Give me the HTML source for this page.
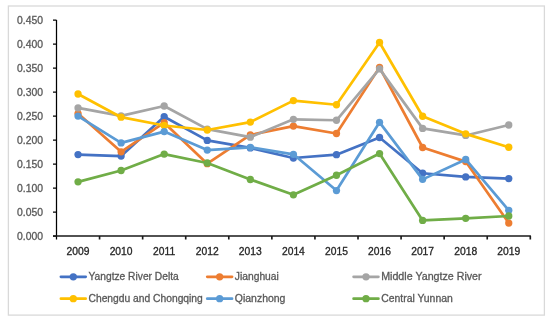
<!DOCTYPE html><html><head><meta charset="utf-8"><title>Chart</title><style>html,body{margin:0;padding:0;background:#fff;width:550px;height:320px;overflow:hidden}svg{display:block}text{font-family:"Liberation Sans", Arial, sans-serif;stroke-width:0.3px;paint-order:fill}</style></head><body>
<svg width="550" height="320" viewBox="0 0 550 320">
<rect x="0" y="0" width="550" height="320" fill="#fff"/>
<rect x="8.4" y="6.0" width="536.0" height="309.1" fill="none" stroke="#d9d9d9" stroke-width="1.3"/>
<text x="43" y="239.70" font-size="10.3" fill="#595959" stroke="#595959" text-anchor="end" textLength="26" lengthAdjust="spacingAndGlyphs">0.000</text>
<text x="43" y="215.70" font-size="10.3" fill="#595959" stroke="#595959" text-anchor="end" textLength="26" lengthAdjust="spacingAndGlyphs">0.050</text>
<text x="43" y="191.70" font-size="10.3" fill="#595959" stroke="#595959" text-anchor="end" textLength="26" lengthAdjust="spacingAndGlyphs">0.100</text>
<text x="43" y="167.70" font-size="10.3" fill="#595959" stroke="#595959" text-anchor="end" textLength="26" lengthAdjust="spacingAndGlyphs">0.150</text>
<text x="43" y="143.70" font-size="10.3" fill="#595959" stroke="#595959" text-anchor="end" textLength="26" lengthAdjust="spacingAndGlyphs">0.200</text>
<text x="43" y="119.70" font-size="10.3" fill="#595959" stroke="#595959" text-anchor="end" textLength="26" lengthAdjust="spacingAndGlyphs">0.250</text>
<text x="43" y="95.70" font-size="10.3" fill="#595959" stroke="#595959" text-anchor="end" textLength="26" lengthAdjust="spacingAndGlyphs">0.300</text>
<text x="43" y="71.70" font-size="10.3" fill="#595959" stroke="#595959" text-anchor="end" textLength="26" lengthAdjust="spacingAndGlyphs">0.350</text>
<text x="43" y="47.70" font-size="10.3" fill="#595959" stroke="#595959" text-anchor="end" textLength="26" lengthAdjust="spacingAndGlyphs">0.400</text>
<text x="43" y="23.70" font-size="10.3" fill="#595959" stroke="#595959" text-anchor="end" textLength="26" lengthAdjust="spacingAndGlyphs">0.450</text>
<text x="78.04" y="255.3" font-size="10.3" fill="#262626" stroke="#262626" text-anchor="middle">2009</text>
<text x="121.11" y="255.3" font-size="10.3" fill="#262626" stroke="#262626" text-anchor="middle">2010</text>
<text x="164.18" y="255.3" font-size="10.3" fill="#262626" stroke="#262626" text-anchor="middle">2011</text>
<text x="207.25" y="255.3" font-size="10.3" fill="#262626" stroke="#262626" text-anchor="middle">2012</text>
<text x="250.33" y="255.3" font-size="10.3" fill="#262626" stroke="#262626" text-anchor="middle">2013</text>
<text x="293.40" y="255.3" font-size="10.3" fill="#262626" stroke="#262626" text-anchor="middle">2014</text>
<text x="336.47" y="255.3" font-size="10.3" fill="#262626" stroke="#262626" text-anchor="middle">2015</text>
<text x="379.55" y="255.3" font-size="10.3" fill="#262626" stroke="#262626" text-anchor="middle">2016</text>
<text x="422.62" y="255.3" font-size="10.3" fill="#262626" stroke="#262626" text-anchor="middle">2017</text>
<text x="465.69" y="255.3" font-size="10.3" fill="#262626" stroke="#262626" text-anchor="middle">2018</text>
<text x="508.76" y="255.3" font-size="10.3" fill="#262626" stroke="#262626" text-anchor="middle">2019</text>
<path d="M56.50 20.00V239.50M53.00 236.00H56.50M53.00 212.00H56.50M53.00 188.00H56.50M53.00 164.00H56.50M53.00 140.00H56.50M53.00 116.00H56.50M53.00 92.00H56.50M53.00 68.00H56.50M53.00 44.00H56.50M53.00 20.00H56.50" stroke="#000" stroke-width="1.25" fill="none"/>
<path d="M53.00 236.00H530.90M99.57 236.00V239.50M142.65 236.00V239.50M185.72 236.00V239.50M228.79 236.00V239.50M271.86 236.00V239.50M314.94 236.00V239.50M358.01 236.00V239.50M401.08 236.00V239.50M444.15 236.00V239.50M487.23 236.00V239.50M530.30 236.00V239.50" stroke="#1a1a1a" stroke-width="1.65" fill="none"/>
<polyline points="78.04,154.54 121.11,156.08 164.18,116.77 207.25,140.38 250.33,147.92 293.40,158.00 336.47,154.64 379.55,137.50 422.62,173.26 465.69,176.91 508.76,178.59" fill="none" stroke="#4472C4" stroke-width="2.70" stroke-linejoin="round" stroke-linecap="round"/>
<circle cx="78.04" cy="154.54" r="3.65" fill="#4472C4"/>
<circle cx="121.11" cy="156.08" r="3.65" fill="#4472C4"/>
<circle cx="164.18" cy="116.77" r="3.65" fill="#4472C4"/>
<circle cx="207.25" cy="140.38" r="3.65" fill="#4472C4"/>
<circle cx="250.33" cy="147.92" r="3.65" fill="#4472C4"/>
<circle cx="293.40" cy="158.00" r="3.65" fill="#4472C4"/>
<circle cx="336.47" cy="154.64" r="3.65" fill="#4472C4"/>
<circle cx="379.55" cy="137.50" r="3.65" fill="#4472C4"/>
<circle cx="422.62" cy="173.26" r="3.65" fill="#4472C4"/>
<circle cx="465.69" cy="176.91" r="3.65" fill="#4472C4"/>
<circle cx="508.76" cy="178.59" r="3.65" fill="#4472C4"/>
<polyline points="78.04,113.60 121.11,151.81 164.18,122.67 207.25,163.71 250.33,134.96 293.40,126.08 336.47,133.52 379.55,67.38 422.62,147.49 465.69,161.60 508.76,223.04" fill="none" stroke="#ED7D31" stroke-width="2.70" stroke-linejoin="round" stroke-linecap="round"/>
<circle cx="78.04" cy="113.60" r="3.65" fill="#ED7D31"/>
<circle cx="121.11" cy="151.81" r="3.65" fill="#ED7D31"/>
<circle cx="164.18" cy="122.67" r="3.65" fill="#ED7D31"/>
<circle cx="207.25" cy="163.71" r="3.65" fill="#ED7D31"/>
<circle cx="250.33" cy="134.96" r="3.65" fill="#ED7D31"/>
<circle cx="293.40" cy="126.08" r="3.65" fill="#ED7D31"/>
<circle cx="336.47" cy="133.52" r="3.65" fill="#ED7D31"/>
<circle cx="379.55" cy="67.38" r="3.65" fill="#ED7D31"/>
<circle cx="422.62" cy="147.49" r="3.65" fill="#ED7D31"/>
<circle cx="465.69" cy="161.60" r="3.65" fill="#ED7D31"/>
<circle cx="508.76" cy="223.04" r="3.65" fill="#ED7D31"/>
<polyline points="78.04,107.89 121.11,115.81 164.18,106.02 207.25,129.10 250.33,137.17 293.40,119.36 336.47,120.27 379.55,68.91 422.62,128.38 465.69,135.44 508.76,124.98" fill="none" stroke="#A5A5A5" stroke-width="2.70" stroke-linejoin="round" stroke-linecap="round"/>
<circle cx="78.04" cy="107.89" r="3.65" fill="#A5A5A5"/>
<circle cx="121.11" cy="115.81" r="3.65" fill="#A5A5A5"/>
<circle cx="164.18" cy="106.02" r="3.65" fill="#A5A5A5"/>
<circle cx="207.25" cy="129.10" r="3.65" fill="#A5A5A5"/>
<circle cx="250.33" cy="137.17" r="3.65" fill="#A5A5A5"/>
<circle cx="293.40" cy="119.36" r="3.65" fill="#A5A5A5"/>
<circle cx="336.47" cy="120.27" r="3.65" fill="#A5A5A5"/>
<circle cx="379.55" cy="68.91" r="3.65" fill="#A5A5A5"/>
<circle cx="422.62" cy="128.38" r="3.65" fill="#A5A5A5"/>
<circle cx="465.69" cy="135.44" r="3.65" fill="#A5A5A5"/>
<circle cx="508.76" cy="124.98" r="3.65" fill="#A5A5A5"/>
<polyline points="78.04,94.02 121.11,117.20 164.18,125.50 207.25,130.02 250.33,122.10 293.40,100.59 336.47,104.77 379.55,42.51 422.62,116.24 465.69,133.86 508.76,147.25" fill="none" stroke="#FFC000" stroke-width="2.70" stroke-linejoin="round" stroke-linecap="round"/>
<circle cx="78.04" cy="94.02" r="3.65" fill="#FFC000"/>
<circle cx="121.11" cy="117.20" r="3.65" fill="#FFC000"/>
<circle cx="164.18" cy="125.50" r="3.65" fill="#FFC000"/>
<circle cx="207.25" cy="130.02" r="3.65" fill="#FFC000"/>
<circle cx="250.33" cy="122.10" r="3.65" fill="#FFC000"/>
<circle cx="293.40" cy="100.59" r="3.65" fill="#FFC000"/>
<circle cx="336.47" cy="104.77" r="3.65" fill="#FFC000"/>
<circle cx="379.55" cy="42.51" r="3.65" fill="#FFC000"/>
<circle cx="422.62" cy="116.24" r="3.65" fill="#FFC000"/>
<circle cx="465.69" cy="133.86" r="3.65" fill="#FFC000"/>
<circle cx="508.76" cy="147.25" r="3.65" fill="#FFC000"/>
<polyline points="78.04,116.10 121.11,142.88 164.18,131.60 207.25,150.08 250.33,147.30 293.40,154.30 336.47,190.59 379.55,122.34 422.62,179.36 465.69,159.49 508.76,210.32" fill="none" stroke="#5B9BD5" stroke-width="2.70" stroke-linejoin="round" stroke-linecap="round"/>
<circle cx="78.04" cy="116.10" r="3.65" fill="#5B9BD5"/>
<circle cx="121.11" cy="142.88" r="3.65" fill="#5B9BD5"/>
<circle cx="164.18" cy="131.60" r="3.65" fill="#5B9BD5"/>
<circle cx="207.25" cy="150.08" r="3.65" fill="#5B9BD5"/>
<circle cx="250.33" cy="147.30" r="3.65" fill="#5B9BD5"/>
<circle cx="293.40" cy="154.30" r="3.65" fill="#5B9BD5"/>
<circle cx="336.47" cy="190.59" r="3.65" fill="#5B9BD5"/>
<circle cx="379.55" cy="122.34" r="3.65" fill="#5B9BD5"/>
<circle cx="422.62" cy="179.36" r="3.65" fill="#5B9BD5"/>
<circle cx="465.69" cy="159.49" r="3.65" fill="#5B9BD5"/>
<circle cx="508.76" cy="210.32" r="3.65" fill="#5B9BD5"/>
<polyline points="78.04,181.86 121.11,170.48 164.18,154.11 207.25,162.99 250.33,179.50 293.40,194.82 336.47,175.23 379.55,153.58 422.62,220.40 465.69,218.34 508.76,215.98" fill="none" stroke="#70AD47" stroke-width="2.70" stroke-linejoin="round" stroke-linecap="round"/>
<circle cx="78.04" cy="181.86" r="3.65" fill="#70AD47"/>
<circle cx="121.11" cy="170.48" r="3.65" fill="#70AD47"/>
<circle cx="164.18" cy="154.11" r="3.65" fill="#70AD47"/>
<circle cx="207.25" cy="162.99" r="3.65" fill="#70AD47"/>
<circle cx="250.33" cy="179.50" r="3.65" fill="#70AD47"/>
<circle cx="293.40" cy="194.82" r="3.65" fill="#70AD47"/>
<circle cx="336.47" cy="175.23" r="3.65" fill="#70AD47"/>
<circle cx="379.55" cy="153.58" r="3.65" fill="#70AD47"/>
<circle cx="422.62" cy="220.40" r="3.65" fill="#70AD47"/>
<circle cx="465.69" cy="218.34" r="3.65" fill="#70AD47"/>
<circle cx="508.76" cy="215.98" r="3.65" fill="#70AD47"/>
<line x1="60.90" y1="276.80" x2="85.70" y2="276.80" stroke="#4472C4" stroke-width="2.70" stroke-linecap="round"/>
<circle cx="73.30" cy="276.80" r="3.65" fill="#4472C4"/>
<text x="88.50" y="279.90" font-size="10.3" fill="#595959" stroke="#595959" textLength="90.2" lengthAdjust="spacingAndGlyphs">Yangtze River Delta</text>
<line x1="207.25" y1="276.80" x2="232.05" y2="276.80" stroke="#ED7D31" stroke-width="2.70" stroke-linecap="round"/>
<circle cx="219.65" cy="276.80" r="3.65" fill="#ED7D31"/>
<text x="234.85" y="279.90" font-size="10.3" fill="#595959" stroke="#595959" textLength="44.0" lengthAdjust="spacingAndGlyphs">Jianghuai</text>
<line x1="353.60" y1="276.80" x2="378.40" y2="276.80" stroke="#A5A5A5" stroke-width="2.70" stroke-linecap="round"/>
<circle cx="366.00" cy="276.80" r="3.65" fill="#A5A5A5"/>
<text x="381.20" y="279.90" font-size="10.3" fill="#595959" stroke="#595959" textLength="100.4" lengthAdjust="spacingAndGlyphs">Middle Yangtze River</text>
<line x1="60.90" y1="298.70" x2="85.70" y2="298.70" stroke="#FFC000" stroke-width="2.70" stroke-linecap="round"/>
<circle cx="73.30" cy="298.70" r="3.65" fill="#FFC000"/>
<text x="88.50" y="301.80" font-size="10.3" fill="#595959" stroke="#595959" textLength="114.3" lengthAdjust="spacingAndGlyphs">Chengdu and Chongqing</text>
<line x1="207.25" y1="298.70" x2="232.05" y2="298.70" stroke="#5B9BD5" stroke-width="2.70" stroke-linecap="round"/>
<circle cx="219.65" cy="298.70" r="3.65" fill="#5B9BD5"/>
<text x="234.85" y="301.80" font-size="10.3" fill="#595959" stroke="#595959" textLength="50.6" lengthAdjust="spacingAndGlyphs">Qianzhong</text>
<line x1="353.60" y1="298.70" x2="378.40" y2="298.70" stroke="#70AD47" stroke-width="2.70" stroke-linecap="round"/>
<circle cx="366.00" cy="298.70" r="3.65" fill="#70AD47"/>
<text x="381.20" y="301.80" font-size="10.3" fill="#595959" stroke="#595959" textLength="71.6" lengthAdjust="spacingAndGlyphs">Central Yunnan</text>
</svg></body></html>
